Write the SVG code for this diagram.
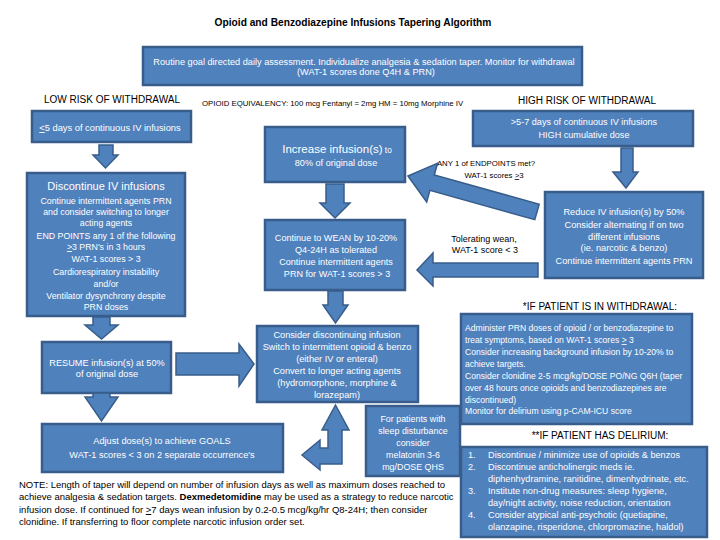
<svg xmlns="http://www.w3.org/2000/svg" width="720" height="540" viewBox="0 0 720 540">
<style>
.box{fill:#4F81BD;stroke:#385D8A;stroke-width:2.5}
.arr{fill:#4F81BD;stroke:#385D8A;stroke-width:1.5;stroke-linejoin:miter}
text{font-family:"Liberation Sans",Arial,sans-serif}
.w{fill:#fff;font-size:9.2px}
.wc{fill:#fff;font-size:9.1px;text-anchor:middle}
.k{fill:#000;font-size:9.5px}
.kc{fill:#000;font-size:8.6px;text-anchor:middle}
.hd{fill:#000;font-size:10px;text-anchor:middle}
.u{text-decoration:underline}
</style>
<rect width="720" height="540" fill="#fff"/>
<text x="353" y="26" text-anchor="middle" style="font-size:10.2px;font-weight:bold" fill="#000">Opioid and Benzodiazepine Infusions Tapering Algorithm</text>

<g id="routine">
<rect class="box" x="143" y="47" width="439" height="38"/>
<text class="wc" x="364" y="64.5" style="font-size:9.2px">Routine goal directed daily assessment.  Individualize analgesia &amp; sedation taper.  Monitor for withdrawal</text>
<text class="wc" x="366" y="75" style="font-size:9.2px">(WAT-1 scores done Q4H &amp; PRN)</text>
</g>

<g id="headers">
<text class="hd" x="112" y="103">LOW RISK OF WITHDRAWAL</text>
<text x="202" y="106" style="font-size:7.8px" fill="#000">OPIOID EQUIVALENCY:  100 mcg Fentanyl = 2mg HM = 10mg Morphine IV</text>
<text class="hd" x="587" y="104">HIGH RISK OF WITHDRAWAL</text>
</g>

<g id="low">
<rect class="box" x="32" y="111" width="159" height="31"/>
<text class="wc" x="110" y="131" style="font-size:9.3px"><tspan class="u">&lt;</tspan>5 days of continuous IV infusions</text>
</g>

<g id="high">
<rect class="box" x="473" y="111" width="220" height="35"/>
<text class="wc" x="584" y="125">&gt;5-7 days of continuous IV infusions</text>
<text class="wc" x="584" y="138">HIGH cumulative dose</text>
</g>

<g id="increase">
<rect class="box" x="265" y="127" width="140" height="55"/>
<text class="wc" x="337" y="153" style="font-size:8.3px"><tspan style="font-size:11.5px">Increase  infusion(s)</tspan> to</text>
<text class="wc" x="336" y="166">80% of original dose</text>
</g>

<g id="continue">
<rect class="box" x="265" y="220" width="140" height="70"/>
<text class="wc" x="336" y="241">Continue to WEAN by 10-20%</text>
<text class="wc" x="336" y="253">Q4-24H as tolerated</text>
<text class="wc" x="336" y="265">Continue intermittent agents</text>
<text class="wc" x="337" y="277">PRN for WAT-1 scores &gt; 3</text>
</g>

<g id="discontinue">
<rect class="box" x="27" y="173" width="158" height="143"/>
<text class="wc" x="106" y="190" style="font-size:11px">Discontinue IV infusions</text>
<text class="wc" x="106" y="204" style="font-size:8.8px">Continue intermittent  agents PRN</text>
<text class="wc" x="106" y="215" style="font-size:8.8px">and consider switching to longer</text>
<text class="wc" x="106" y="226" style="font-size:8.8px">acting agents</text>
<text class="wc" x="106" y="239" style="font-size:8.8px">END POINTS any 1 of the following</text>
<text class="wc" x="106" y="250" style="font-size:8.8px"><tspan class="u">&gt;</tspan>3 PRN's in 3 hours</text>
<text class="wc" x="106" y="262" style="font-size:8.8px">WAT-1 scores &gt; 3</text>
<text class="wc" x="106" y="275" style="font-size:8.8px">Cardiorespiratory instability</text>
<text class="wc" x="106" y="287" style="font-size:8.8px">and/or</text>
<text class="wc" x="106" y="299" style="font-size:8.8px">Ventilator dysynchrony despite</text>
<text class="wc" x="106" y="310" style="font-size:8.8px">PRN doses</text>
</g>

<g id="reduce">
<rect class="box" x="545" y="192" width="158" height="86"/>
<text class="wc" x="624" y="215" style="font-size:9.2px">Reduce IV infusion(s) by 50%</text>
<text class="wc" x="624" y="228" style="font-size:9.2px">Consider alternating if on two</text>
<text class="wc" x="624" y="240" style="font-size:9.2px">different infusions</text>
<text class="wc" x="624" y="251" style="font-size:9.2px">(ie. narcotic &amp; benzo)</text>
<text class="wc" x="624" y="264" style="font-size:9.2px">Continue intermittent agents PRN</text>
</g>

<g id="resume">
<rect class="box" x="42" y="342" width="129" height="51"/>
<text class="wc" x="107" y="366" style="font-size:9.2px">RESUME  infusion(s) at 50%</text>
<text class="wc" x="107" y="377" style="font-size:9.2px">of original dose</text>
</g>

<g id="consider">
<rect class="box" x="257" y="326" width="161" height="76"/>
<text class="wc" x="337" y="338" style="font-size:9.2px">Consider discontinuing infusion</text>
<text class="wc" x="337" y="350" style="font-size:9.2px">Switch to intermittent opioid &amp; benzo</text>
<text class="wc" x="337" y="362" style="font-size:9.2px">(either IV or enteral)</text>
<text class="wc" x="337" y="374" style="font-size:9.2px">Convert to longer acting agents</text>
<text class="wc" x="337" y="386" style="font-size:9.2px">(hydromorphone, morphine &amp;</text>
<text class="wc" x="337" y="398" style="font-size:9.2px">lorazepam)</text>
</g>

<g id="adjust">
<rect class="box" x="42" y="424" width="241" height="48"/>
<text class="wc" x="162" y="444" style="font-size:9.2px">Adjust dose(s) to achieve GOALS</text>
<text class="wc" x="162" y="458" style="font-size:9.2px">WAT-1 scores &lt; 3 on 2 separate occurrence's</text>
</g>

<g id="sleep">
<rect class="box" x="366" y="406" width="94" height="70"/>
<text class="wc" x="413" y="422" style="font-size:8.9px">For patients with</text>
<text class="wc" x="413" y="434" style="font-size:8.9px">sleep disturbance</text>
<text class="wc" x="413" y="446" style="font-size:8.9px">consider</text>
<text class="wc" x="413" y="458" style="font-size:8.9px">melatonin 3-6</text>
<text class="wc" x="413" y="470" style="font-size:8.9px">mg/DOSE QHS</text>
</g>

<g id="withdrawal">
<text class="hd" x="600" y="310">*IF PATIENT IS IN WITHDRAWAL:</text>
<rect class="box" x="461" y="314" width="231" height="110"/>
<text class="w" x="465" y="331" style="font-size:8.6px">Administer PRN doses of opioid / or benzodiazepine to</text>
<text class="w" x="465" y="343" style="font-size:8.6px">treat symptoms, based on WAT-1 scores <tspan class="u">&gt;</tspan> 3</text>
<text class="w" x="465" y="355" style="font-size:8.6px">Consider increasing background infusion by 10-20% to</text>
<text class="w" x="465" y="367" style="font-size:8.6px">achieve targets.</text>
<text class="w" x="465" y="379" style="font-size:8.6px">Consider clonidine 2-5 mcg/kg/DOSE PO/NG Q6H (taper</text>
<text class="w" x="465" y="391" style="font-size:8.6px">over 48 hours once opioids and benzodiazepines are</text>
<text class="w" x="465" y="403" style="font-size:8.6px">discontinued)</text>
<text class="w" x="465" y="414" style="font-size:8.6px">Monitor for delirium using p-CAM-ICU score</text>
</g>

<g id="delirium">
<text class="hd" x="600" y="439">**IF PATIENT HAS DELIRIUM:</text>
<rect class="box" x="461" y="447" width="246" height="90"/>
<text class="w" x="468" y="458">1.</text><text class="w" x="488" y="458">Discontinue / minimize use of opioids &amp; benzos</text>
<text class="w" x="468" y="470">2.</text><text class="w" x="488" y="470">Discontinue anticholinergic meds ie.</text>
<text class="w" x="488" y="482">diphenhydramine, ranitidine, dimenhydrinate, etc.</text>
<text class="w" x="468" y="494">3.</text><text class="w" x="488" y="494">Institute non-drug measures: sleep hygiene,</text>
<text class="w" x="488" y="506">day/night activity, noise reduction, orientation</text>
<text class="w" x="468" y="518">4.</text><text class="w" x="488" y="518">Consider atypical anti-psychotic (quetiapine,</text>
<text class="w" x="488" y="530">olanzapine, risperidone, chlorpromazine, haldol)</text>
</g>

<g id="labels">
<text class="kc" x="486" y="166" style="font-size:7.8px">ANY 1 of ENDPOINTS met?</text>
<text class="kc" x="494" y="178" style="font-size:7.8px">WAT-1 scores <tspan class="u">&gt;</tspan>3</text>
<text class="kc" x="484" y="242" style="font-size:9px">Tolerating wean,</text>
<text class="kc" x="485" y="253" style="font-size:9px">WAT-1 score &lt; 3</text>
</g>

<g id="note">
<text class="k" x="19" y="488">NOTE:  Length of taper will depend on number of infusion days as well as maximum doses reached to</text>
<text class="k" x="19" y="500">achieve analgesia &amp; sedation targets.  <tspan font-weight="bold">Dexmedetomidine</tspan>  may be used as a strategy to reduce narcotic</text>
<text class="k" x="19" y="513">infusion dose. If continued for <tspan class="u">&gt;</tspan>7 days wean infusion by 0.2-0.5 mcg/kg/hr Q8-24H; then consider</text>
<text class="k" x="19" y="525">clonidine.  If transferring to floor complete narcotic infusion order set.</text>
</g>

<g id="connectors">
<polygon class="arr" points="99,145 113,145 113,155 118,155 105.5,168 93,155 99,155"/>
<polygon class="arr" points="93,317 110,317 110,325 118,325 101.5,339 85,325 93,325"/>
<polygon class="arr" points="93,393 110,393 110,397 118,397 101.5,421 85,397 93,397"/>
<polygon class="arr" points="176,353 239,353 239,344 254,364 239,386 239,375 176,375"/>
<polygon class="arr" points="326,184 344,184 344,203 350,203 335,218 320,203 326,203"/>
<polygon class="arr" points="328,291 343,291 343,305 348,305 335.5,323 323,305 328,305"/>
<polygon class="arr" points="621,148 633,148 633,172 638,172 626,188 613,172 621,172"/>
<polygon class="arr" points="408,176 437.5,163.4 434.3,175 539.2,204.3 534.8,219.7 429.9,190.4 426.7,202"/>
<polygon class="arr" points="538,263 433,263 433,253 417,270 433,286 433,277 538,277"/>
<polygon class="arr" points="335.5,405 349,430 342,430 342,464 320,464 320,470 302,455 320,440 320,448 328,448 328,430 322,430"/>
</g>
</svg>
